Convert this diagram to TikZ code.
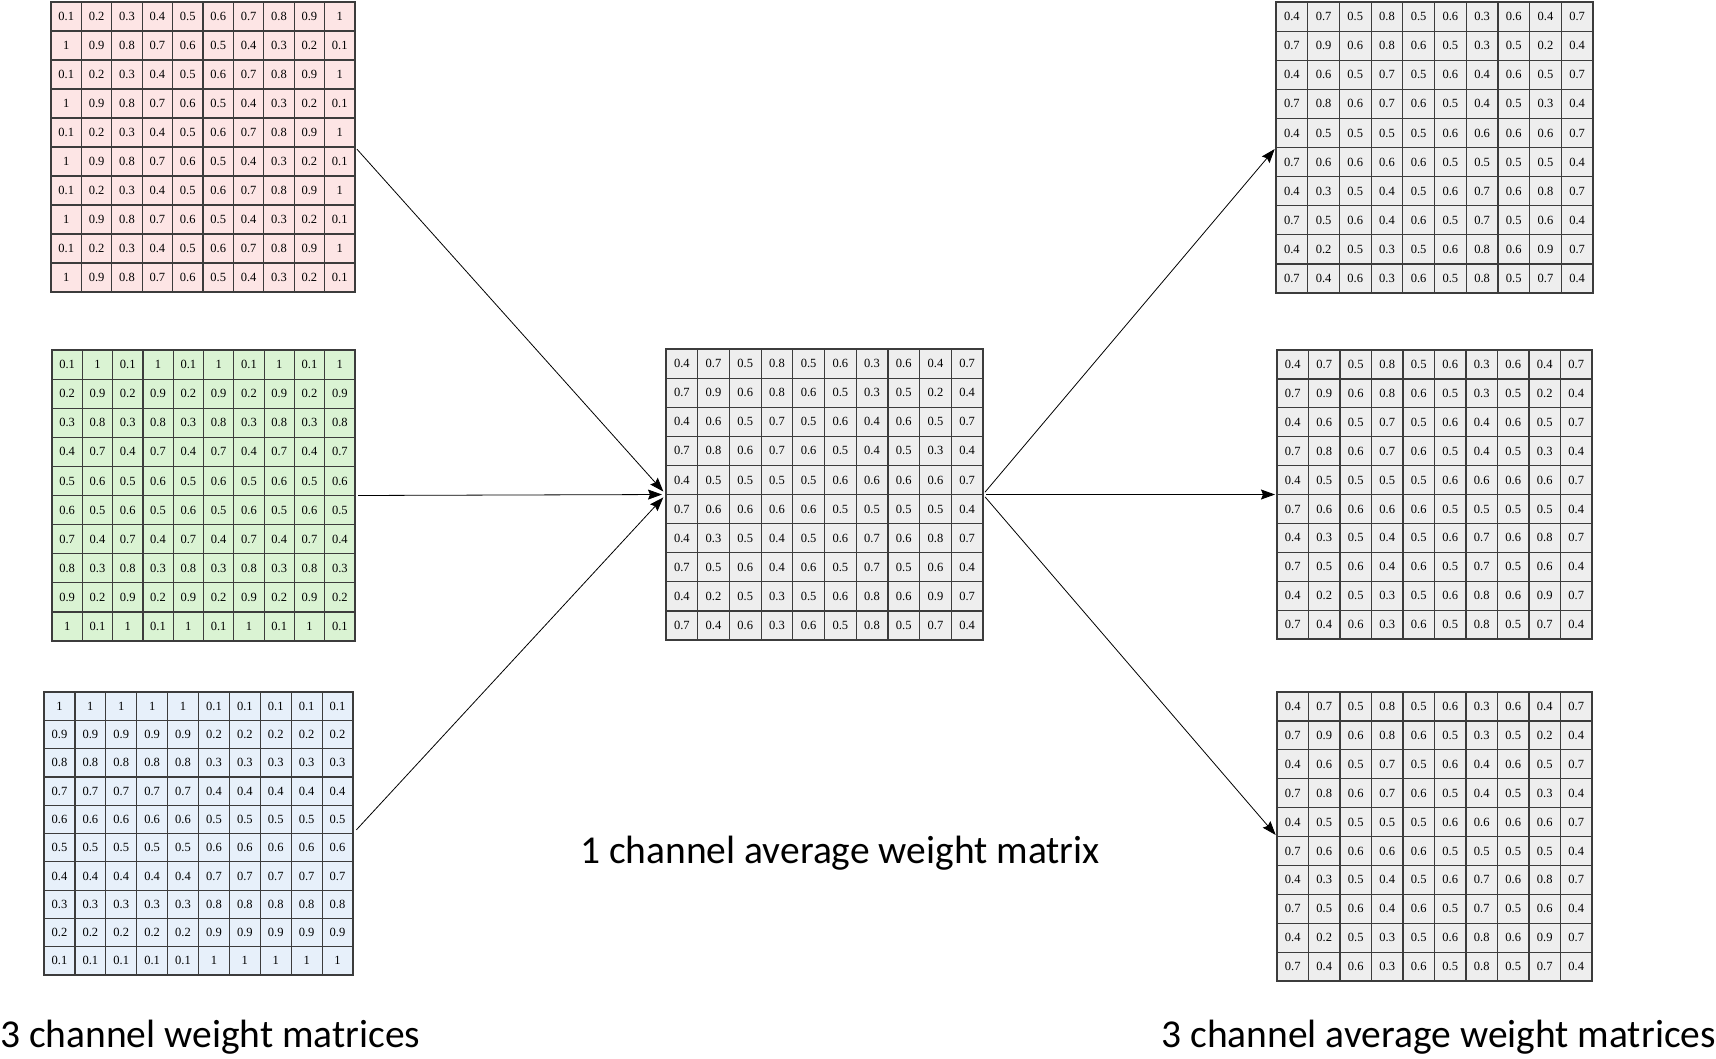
\documentclass[tikz,border=0pt]{standalone}
\usepackage{fontspec}
\setmainfont{Liberation Serif}
\newfontfamily\labelfont{Carlito}
\usepackage{tikz}
\usetikzlibrary{positioning,arrows.meta,calc}

\definecolor{redcell}{RGB}{253,229,229}
\definecolor{greencell}{RGB}{218,243,211}
\definecolor{bluecell}{RGB}{231,240,250}
\definecolor{greycell}{RGB}{238,238,238}
\definecolor{gridline}{RGB}{60,60,60}

% weight grid: name, left, top, cell width, cell height, fill, rows
\newcommand{\wgrid}[7]{%
  \node[gridbox,minimum width=10*#4*1pt,minimum height=10*#5*1pt,anchor=north west] (#1) at (#2,#3) {};
  \foreach \row [count=\i] in #7 {
    \foreach \val [count=\j] in \row {
      \node[cellbox=#6,minimum width=#4*1pt,minimum height=#5*1pt] (#1-\i-\j)
        at ($(#1.north west)+({(\j-0.5)*#4},{(\i-0.5)*#5})$) {\val};
    }
  }
}

\def\redrows{{0.1,0.2,0.3,0.4,0.5,0.6,0.7,0.8,0.9,1},{1,0.9,0.8,0.7,0.6,0.5,0.4,0.3,0.2,0.1},
  {0.1,0.2,0.3,0.4,0.5,0.6,0.7,0.8,0.9,1},{1,0.9,0.8,0.7,0.6,0.5,0.4,0.3,0.2,0.1},
  {0.1,0.2,0.3,0.4,0.5,0.6,0.7,0.8,0.9,1},{1,0.9,0.8,0.7,0.6,0.5,0.4,0.3,0.2,0.1},
  {0.1,0.2,0.3,0.4,0.5,0.6,0.7,0.8,0.9,1},{1,0.9,0.8,0.7,0.6,0.5,0.4,0.3,0.2,0.1},
  {0.1,0.2,0.3,0.4,0.5,0.6,0.7,0.8,0.9,1},{1,0.9,0.8,0.7,0.6,0.5,0.4,0.3,0.2,0.1}}
\def\greenrows{{0.1,1,0.1,1,0.1,1,0.1,1,0.1,1},{0.2,0.9,0.2,0.9,0.2,0.9,0.2,0.9,0.2,0.9},
  {0.3,0.8,0.3,0.8,0.3,0.8,0.3,0.8,0.3,0.8},{0.4,0.7,0.4,0.7,0.4,0.7,0.4,0.7,0.4,0.7},
  {0.5,0.6,0.5,0.6,0.5,0.6,0.5,0.6,0.5,0.6},{0.6,0.5,0.6,0.5,0.6,0.5,0.6,0.5,0.6,0.5},
  {0.7,0.4,0.7,0.4,0.7,0.4,0.7,0.4,0.7,0.4},{0.8,0.3,0.8,0.3,0.8,0.3,0.8,0.3,0.8,0.3},
  {0.9,0.2,0.9,0.2,0.9,0.2,0.9,0.2,0.9,0.2},{1,0.1,1,0.1,1,0.1,1,0.1,1,0.1}}
\def\bluerows{{1,1,1,1,1,0.1,0.1,0.1,0.1,0.1},{0.9,0.9,0.9,0.9,0.9,0.2,0.2,0.2,0.2,0.2},
  {0.8,0.8,0.8,0.8,0.8,0.3,0.3,0.3,0.3,0.3},{0.7,0.7,0.7,0.7,0.7,0.4,0.4,0.4,0.4,0.4},
  {0.6,0.6,0.6,0.6,0.6,0.5,0.5,0.5,0.5,0.5},{0.5,0.5,0.5,0.5,0.5,0.6,0.6,0.6,0.6,0.6},
  {0.4,0.4,0.4,0.4,0.4,0.7,0.7,0.7,0.7,0.7},{0.3,0.3,0.3,0.3,0.3,0.8,0.8,0.8,0.8,0.8},
  {0.2,0.2,0.2,0.2,0.2,0.9,0.9,0.9,0.9,0.9},{0.1,0.1,0.1,0.1,0.1,1,1,1,1,1}}
\def\avgrows{{0.4,0.7,0.5,0.8,0.5,0.6,0.3,0.6,0.4,0.7},{0.7,0.9,0.6,0.8,0.6,0.5,0.3,0.5,0.2,0.4},
  {0.4,0.6,0.5,0.7,0.5,0.6,0.4,0.6,0.5,0.7},{0.7,0.8,0.6,0.7,0.6,0.5,0.4,0.5,0.3,0.4},
  {0.4,0.5,0.5,0.5,0.5,0.6,0.6,0.6,0.6,0.7},{0.7,0.6,0.6,0.6,0.6,0.5,0.5,0.5,0.5,0.4},
  {0.4,0.3,0.5,0.4,0.5,0.6,0.7,0.6,0.8,0.7},{0.7,0.5,0.6,0.4,0.6,0.5,0.7,0.5,0.6,0.4},
  {0.4,0.2,0.5,0.3,0.5,0.6,0.8,0.6,0.9,0.7},{0.7,0.4,0.6,0.3,0.6,0.5,0.8,0.5,0.7,0.4}}

\begin{document}
\begin{tikzpicture}[x=1pt,y=-1pt,
  cellbox/.style={rectangle,draw=gridline,line width=1.2pt,fill=#1,inner sep=0pt,font=\fontsize{12.5}{14}\selectfont},
  gridbox/.style={rectangle,inner sep=0pt,outer sep=0pt},
  link/.style={-{Stealth[length=14pt,width=10pt,inset=2pt]},line width=0.8pt},
  capt/.style={font=\labelfont\fontsize{39.5}{44}\selectfont,inner sep=0pt},
]
\useasboundingbox (0,0) rectangle (1716,1058);

% ==== 3 channel input matrices (left) ====
\wgrid{red}{51}{2}{30.4}{29.0}{redcell}{\redrows}
\wgrid{green}{52}{350}{30.3}{29.1}{greencell}{\greenrows}
\wgrid{blue}{44}{692}{30.9}{28.3}{bluecell}{\bluerows}

% ==== averaged matrix (middle) ====
\wgrid{avg}{666}{349}{31.7}{29.1}{greycell}{\avgrows}

% ==== 3 channel average matrices (right) ====
\wgrid{outA}{1276}{2}{31.7}{29.1}{greycell}{\avgrows}
\wgrid{outB}{1277}{350}{31.5}{28.9}{greycell}{\avgrows}
\wgrid{outC}{1277}{692}{31.5}{28.9}{greycell}{\avgrows}

% arrows in
\draw[link,shorten <=3pt,shorten >=4pt] (red.east) -- (avg.west);
\draw[link,shorten <=3pt,shorten >=4pt] (green.east) -- (avg.west);
\draw[link,shorten <=5pt,shorten >=4pt] (blue.east) -- (avg.west);

% arrows out
\draw[link,shorten <=3pt,shorten >=2pt] (avg.east) -- (outA.west);
\draw[link,shorten <=3pt,shorten >=2pt] (avg.east) -- (outB.west);
\draw[link,shorten <=3pt,shorten >=2pt] (avg.east) -- (outC.west);

% captions
\node[capt,anchor=base] (midcap) at (840,863) {1 channel average weight matrix};
\node[capt,anchor=base west] (leftcap) at (0,1047) {3 channel weight matrices};
\node[capt,anchor=base east] (rightcap) at (1716,1047) {3 channel average weight matrices};

\end{tikzpicture}
\end{document}
